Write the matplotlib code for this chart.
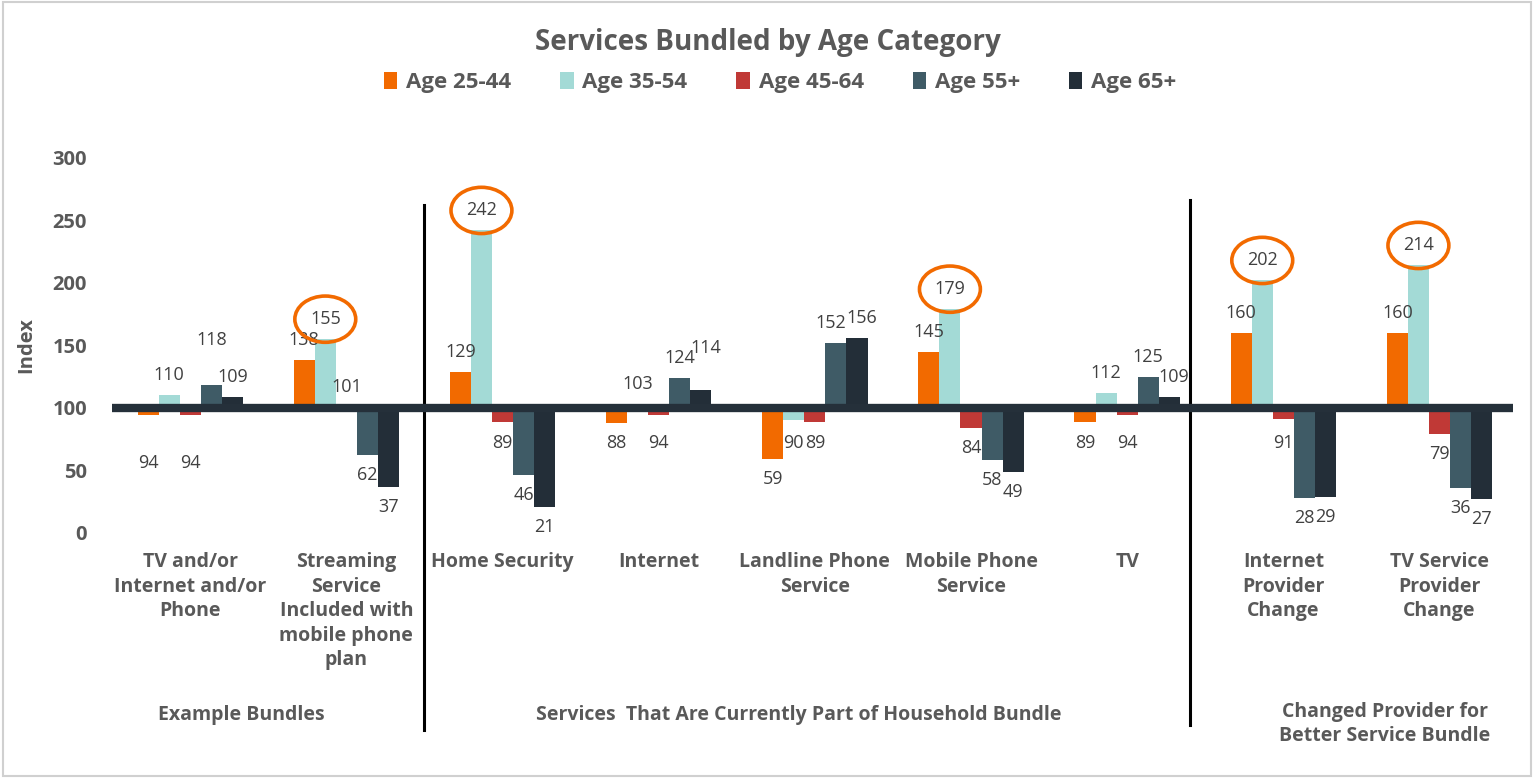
import matplotlib.pyplot as plt
import numpy as np
from matplotlib.patches import Ellipse, Rectangle

plt.rcParams['font.family'] = ['Open Sans', 'DejaVu Sans']

# Chart data
categories = [
    'TV and/or\nInternet and/or\nPhone',
    'Streaming\nService\nIncluded with\nmobile phone\nplan',
    'Home Security',
    'Internet',
    'Landline Phone\nService',
    'Mobile Phone\nService',
    'TV',
    'Internet\nProvider\nChange',
    'TV Service\nProvider\nChange',
]
series_names = ['Age 25-44', 'Age 35-54', 'Age 45-64', 'Age 55+', 'Age 65+']
age_25_44 = [94, 138, 129, 88, 59, 145, 89, 160, 160]
age_35_54 = [110, 155, 242, 103, 90, 179, 112, 202, 214]
age_45_64 = [94, 101, 89, 94, 89, 84, 94, 91, 79]
age_55_plus = [118, 62, 46, 124, 152, 58, 125, 28, 36]
age_65_plus = [109, 37, 21, 114, 156, 49, 109, 29, 27]
# (category index, series index) of values circled in the chart
highlighted = [(1, 1), (2, 1), (5, 1), (7, 1), (8, 1)]
group_names = ['Example Bundles',
               'Services  That Are Currently Part of Household Bundle',
               'Changed Provider for\nBetter Service Bundle']

colors = ['#F26A00', '#A3DAD6', '#C03936', '#3F5B66', '#232E38']
text_gray = '#595959'
baseline = 100
# label nudges (dx in category units, dy in index units) where labels crowd
label_nudge = {(0, 3): (0, 20), (0, 0): (0, -16), (0, 2): (0, -16),
               (3, 4): (0.03, 18), (4, 3): (-0.035, 0), (4, 4): (0.03, 0),
               (6, 4): (0.03, 0)}

series = [age_25_44, age_35_54, age_45_64, age_55_plus, age_65_plus]

fig = plt.figure(figsize=(15.36, 7.78), dpi=100)
ax = fig.add_axes([0.073, 0.315, 0.915, 0.482])

x = np.arange(len(categories))
bar_w = 0.135
offsets = (np.arange(5) - 2) * bar_w

for s, (vals, name, col) in enumerate(zip(series, series_names, colors)):
    vals = np.array(vals)
    ax.bar(x + offsets[s], vals - baseline, bottom=baseline, width=bar_w,
           color=col, label=name, zorder=2)
    for i, v in enumerate(vals):
        if v >= baseline:
            ly = v + 16
        else:
            ly = min(v - 16, 72)
        dx, dy = label_nudge.get((i, s), (0, 0))
        ax.text(x[i] + offsets[s] + dx, ly + dy, str(v), ha='center',
                va='center', fontsize=13, color='#404040', zorder=4)

# circles around the highlighted values
for i, s in highlighted:
    v = series[s][i]
    ax.add_patch(Ellipse((x[i] + offsets[s], v + 16), 0.39, 37, fill=False,
                         edgecolor='#F26A00', linewidth=2.6, zorder=5,
                         clip_on=False))

# thick index-100 line
ax.plot([-0.5, 8.47], [baseline, baseline], color='#25303A', linewidth=6,
        solid_capstyle='butt', zorder=3, clip_on=False)

# section separators
ax.plot([1.5, 1.5], [262, -158], color='black', linewidth=2.2, clip_on=False)
ax.plot([6.4, 6.4], [266, -154], color='black', linewidth=2.2, clip_on=False)

ax.set_xlim(-0.5, 8.5)
ax.set_ylim(0, 300)
ax.set_yticks(range(0, 301, 50))
ax.set_xticks(x)
ax.set_xticklabels(categories, fontsize=14, fontweight='bold', color=text_gray,
                   linespacing=1.3)
ax.tick_params(axis='x', length=0, pad=14)
ax.tick_params(axis='y', length=0, pad=18, labelsize=14.5, labelcolor=text_gray)
for lab in ax.get_yticklabels():
    lab.set_fontweight('bold')
for sp in ax.spines.values():
    sp.set_visible(False)
ax.set_ylabel('Index', fontsize=14.5, fontweight='bold', color=text_gray,
              labelpad=12)

# group labels
xt = ax.get_xaxis_transform()
ax.text(0.33, -0.485, group_names[0], transform=xt, ha='center', va='center',
        fontsize=14, fontweight='bold', color=text_gray)
ax.text(3.9, -0.485, group_names[1], transform=xt, ha='center', va='center',
        fontsize=14, fontweight='bold', color=text_gray)
ax.text(7.65, -0.51, group_names[2], transform=xt, ha='center', va='center',
        fontsize=14, fontweight='bold', color=text_gray, linespacing=1.3)

fig.text(0.5, 0.945, 'Services Bundled by Age Category', ha='center',
         va='center', fontsize=20, fontweight='bold', color=text_gray)
leg = fig.legend(loc='center', bbox_to_anchor=(0.508, 0.894), ncol=5,
                 frameon=False, handlelength=0.6, handleheight=0.8,
                 handletextpad=0.4, columnspacing=2.2,
                 prop={'size': 16, 'weight': 'bold'})
for t in leg.get_texts():
    t.set_color(text_gray)

fig.patches.append(Rectangle((0.002, 0.003), 0.995, 0.994,
                             transform=fig.transFigure, fill=False,
                             edgecolor='#D0D0D0', linewidth=1.5))

fig.savefig('out.png', dpi=100)
